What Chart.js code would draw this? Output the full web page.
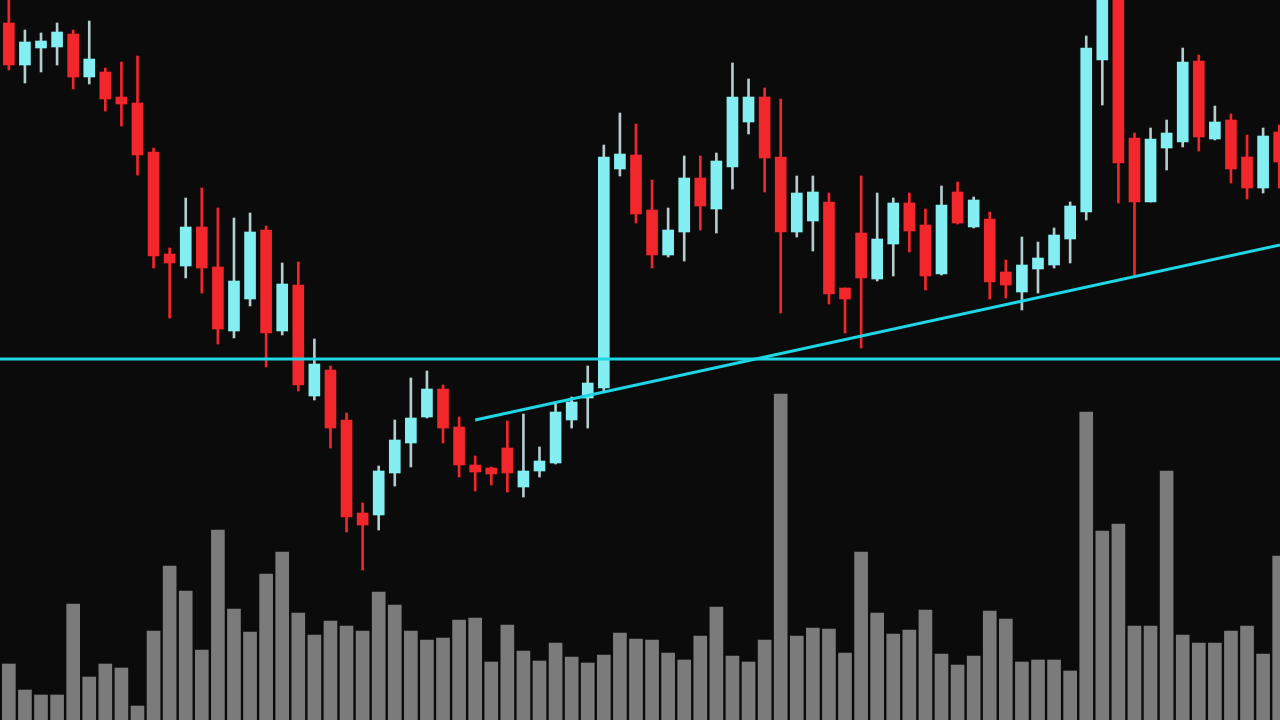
<!DOCTYPE html>
<html>
<head>
<meta charset="utf-8">
<title>Candles</title>
<script src="https://cdn.jsdelivr.net/npm/chart.js@4.4.1/dist/chart.umd.min.js"></script>
<style>
  html, body { margin: 0; padding: 0; background: #0b0b0b; overflow: hidden; }
  #wrap { width: 1280px; height: 720px; }
</style>
</head>
<body>
<div id="wrap"><canvas id="chart" width="1280" height="720"></canvas></div>
<script>
// candle data (price units are arbitrary)
const opens  = [697,655,672,673,686,643,648,623,617,568, 466,454,493,453,389,421,490,389,435,324,
                350,300,207,205,247,277,303,331,293,255, 252,272,233,249,257,300,322,332,551,565,
                510,465,488,542,511,553,598,623,563,488, 499,518,432,487,441,476,517,495,446,528,
                493,501,448,428,451,455,481,508,660,725, 582,518,572,578,659,581,600,563,532,588];
const closes = [655,678,679,688,643,661,621,616,565,464, 457,493,452,391,439,488,387,436,335,356,
                292,203,195,249,280,302,331,292,255,248, 246,247,249,259,308,318,337,563,566,506,
                465,490,542,514,559,623,623,562,488,527, 528,426,421,442,481,517,489,444,515,497,
                520,438,435,455,462,485,514,672,725,557, 518,581,587,658,583,598,551,532,584,558];
const highs  = [725,690,687,697,690,699,652,658,664,572, 472,522,532,512,502,507,494,457,458,381,
                354,307,217,254,300,342,349,335,303,264, 253,299,306,273,317,323,354,575,607,596,
                540,512,564,564,567,657,641,632,621,544, 544,527,432,544,527,522,527,511,534,538,
                523,508,460,483,478,492,518,684,730,730, 587,592,600,672,665,614,606,585,592,595];
const lows   = [650,637,648,655,631,636,609,594,545,452, 402,442,427,376,382,414,353,385,329,320,
                272,188,150,190,234,253,302,277,243,229, 235,228,223,243,256,292,292,328,544,497,
                452,463,459,490,487,531,586,528,407,483, 469,416,387,372,439,444,468,430,445,496,
                492,421,422,410,427,452,457,500,615,517, 445,518,550,573,569,580,537,521,527,532];
const volumes = [56,30,25,25,116,43,56,52,14,89, 154,129,70,190,111,88,146,168,107,85,
                 99,94,89,128,115,89,80,82,100,102, 58,95,69,59,77,63,57,65,87,81,
                 80,67,60,84,113,64,58,80,326,84, 92,91,67,168,107,86,90,110,66,55,
                 64,109,101,58,60,60,49,308,189,196, 94,94,249,85,77,77,89,94,66,164];

// support level and rising trend line (x in candle index, y in price)
const supportLevel = 361;
const trendStart = { x: 29.0, y: 300 };
const trendEnd = { x: 79.05, y: 475 };

const X_MIN = -0.55, X_MAX = 79.05;

const RED = "#f2272c";
const CYAN = "#84eff3";
const WICK_UP = "#b4cccc";
const LINE = "#1fd6e4";

const isUp = opens.map((o, i) => closes[i] >= o);

const bodies = opens.map((o, i) => ({ x: i, y: [o, closes[i]] }));
const wicks = lows.map((l, i) => ({ x: i, y: [l, highs[i]] }));
const vols = volumes.map((v, i) => ({ x: i, y: v }));

const ctx = document.getElementById("chart").getContext("2d");
const chart = new Chart(ctx, {
  data: {
    datasets: [
      {
        type: "bar",
        label: "volume",
        data: vols,
        yAxisID: "vol",
        backgroundColor: "#7b7b7b",
        barThickness: 13,
        grouped: false,
        order: 4
      },
      {
        type: "bar",
        label: "wick",
        data: wicks,
        yAxisID: "y",
        backgroundColor: isUp.map(u => u ? WICK_UP : RED),
        barThickness: 2,
        grouped: false,
        order: 3
      },
      {
        type: "bar",
        label: "body",
        data: bodies,
        yAxisID: "y",
        backgroundColor: isUp.map(u => u ? CYAN : RED),
        barThickness: 11,
        minBarLength: 3,
        grouped: false,
        order: 2
      },
      {
        type: "line",
        label: "support",
        data: [{ x: X_MIN, y: supportLevel }, { x: X_MAX, y: supportLevel }],
        yAxisID: "y",
        borderColor: LINE,
        borderWidth: 3,
        pointRadius: 0,
        order: 1
      },
      {
        type: "line",
        label: "trend",
        data: [trendStart, trendEnd],
        yAxisID: "y",
        borderColor: LINE,
        borderWidth: 3,
        pointRadius: 0,
        order: 1
      }
    ]
  },
  options: {
    responsive: false,
    animation: false,
    layout: { padding: 0 },
    plugins: {
      legend: { display: false },
      tooltip: { enabled: false }
    },
    scales: {
      x: { type: "linear", min: X_MIN, max: X_MAX, display: false, offset: false },
      y: { type: "linear", min: 0, max: 720, display: false },
      vol: { type: "linear", min: 0, max: 720, display: false }
    }
  }
});
</script>
</body>
</html>
